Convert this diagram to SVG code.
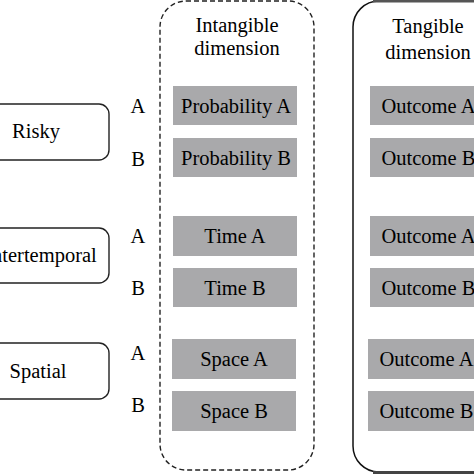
<svg xmlns="http://www.w3.org/2000/svg" width="474" height="474" viewBox="0 0 474 474">
<style>
text{font-family:"Liberation Serif","Times New Roman",serif;font-size:20.5px;fill:#000;text-anchor:middle}
.cat{fill:#fff;stroke:#222;stroke-width:1.4}
.g{fill:#a9a9ab}
</style>
<rect width="474" height="474" fill="#fff"/>
<g id="intangible">
<rect x="160" y="1" width="154" height="469" rx="26" fill="none" stroke="#222" stroke-width="1.4" stroke-dasharray="5,3"/>
<text x="237" y="32">Intangible</text>
<text x="237" y="55">dimension</text>
</g>
<g id="tangible">
<rect x="353" y="1" width="160" height="471" rx="26" fill="none" stroke="#111" stroke-width="1.5"/>
<line x1="373" y1="1" x2="474" y2="1" stroke="#555" stroke-width="3"/>
<line x1="373" y1="472.5" x2="474" y2="472.5" stroke="#444" stroke-width="3"/>
<text x="428" y="33">Tangible</text>
<text x="428" y="59">dimension</text>
</g>
<g id="risky"><rect class="cat" x="-35" y="104" width="144" height="56" rx="10"/><text x="36" y="138">Risky</text></g>
<g id="intertemporal"><rect class="cat" x="-35" y="228" width="144" height="55" rx="10"/><text x="41" y="262">Intertemporal</text></g>
<g id="spatial"><rect class="cat" x="-35" y="343" width="144" height="56" rx="10"/><text x="38" y="378">Spatial</text></g>
<g id="labels">
<text x="138" y="113">A</text><text x="138" y="166">B</text>
<text x="138" y="243">A</text><text x="138" y="295">B</text>
<text x="138" y="360">A</text><text x="138" y="412">B</text>
</g>
<g id="probA"><rect class="g" x="173" y="86" width="124" height="39"/><text x="236" y="113">Probability A</text></g>
<g id="probB"><rect class="g" x="173" y="138" width="124" height="39"/><text x="236" y="165">Probability B</text></g>
<g id="timeA"><rect class="g" x="173" y="216" width="124" height="40"/><text x="235" y="243">Time A</text></g>
<g id="timeB"><rect class="g" x="173" y="268" width="124" height="39"/><text x="235" y="295">Time B</text></g>
<g id="spaceA"><rect class="g" x="172" y="339" width="124" height="40"/><text x="234" y="366">Space A</text></g>
<g id="spaceB"><rect class="g" x="172" y="391" width="124" height="40"/><text x="234" y="418">Space B</text></g>
<g id="outA1"><rect class="g" x="370" y="86" width="120" height="39"/><text x="428.5" y="113">Outcome A</text></g>
<g id="outB1"><rect class="g" x="370" y="138" width="120" height="39"/><text x="428.5" y="165">Outcome B</text></g>
<g id="outA2"><rect class="g" x="370" y="216" width="120" height="40"/><text x="428.5" y="243">Outcome A</text></g>
<g id="outB2"><rect class="g" x="370" y="268" width="120" height="39"/><text x="428.5" y="295">Outcome B</text></g>
<g id="outA3"><rect class="g" x="368" y="339" width="120" height="40"/><text x="426.5" y="366">Outcome A</text></g>
<g id="outB3"><rect class="g" x="368" y="391" width="120" height="40"/><text x="426.5" y="418">Outcome B</text></g>
<g id="connectors"></g>
</svg>
